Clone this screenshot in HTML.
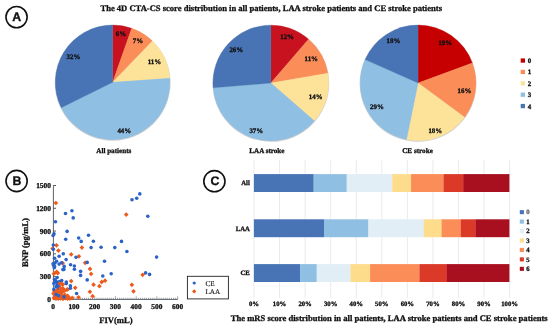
<!DOCTYPE html><html><head><meta charset="utf-8"><title>Figure</title>
<style>html,body{margin:0;padding:0;background:#fff}svg{display:block}text{font-family:"Liberation Serif",serif;font-weight:bold;fill:#111;stroke:#111;stroke-width:.3px;text-rendering:geometricPrecision}.sans{font-family:"Liberation Sans",sans-serif;stroke-width:.35px}.reg{font-weight:normal;stroke-width:.15px}</style></head><body>
<svg width="550" height="328" viewBox="0 0 550 328">
<rect width="550" height="328" fill="#fff"/>
<text x="271.20" y="11.30" font-size="8.56" text-anchor="middle">The 4D CTA-CS score distribution in all patients, LAA stroke patients and CE stroke patients</text>
<circle cx="16.55" cy="17.1" r="10.6" fill="#fff" stroke="#111" stroke-width="1.6"/><text x="16.7" y="21.3" font-size="12.3" text-anchor="middle" class="sans">A</text>
<circle cx="16.6" cy="181.0" r="10.6" fill="#fff" stroke="#111" stroke-width="1.6"/><text x="17.0" y="185.3" font-size="12.3" text-anchor="middle" class="sans">B</text>
<circle cx="214.4" cy="181.2" r="10.6" fill="#fff" stroke="#111" stroke-width="1.6"/><text x="215.0" y="185.4" font-size="12.3" text-anchor="middle" class="sans">C</text>
<circle cx="112.65" cy="82.85" r="57.85" fill="#a8a8a8" opacity="0.55"/><path d="M112.65,82.35L112.65,25.00A57.35,57.35 0 0 1 131.74,28.27Z" fill="#C9121F" stroke="#C9121F" stroke-width="0.3"/><path d="M112.65,82.35L131.74,28.27A57.35,57.35 0 0 1 152.43,41.04Z" fill="#FB8D58" stroke="#FB8D58" stroke-width="0.3"/><path d="M112.65,82.35L152.43,41.04A57.35,57.35 0 0 1 169.85,78.21Z" fill="#FDE39A" stroke="#FDE39A" stroke-width="0.3"/><path d="M112.65,82.35L169.85,78.21A57.35,57.35 0 0 1 61.23,107.74Z" fill="#8FBFE3" stroke="#8FBFE3" stroke-width="0.3"/><path d="M112.65,82.35L61.23,107.74A57.35,57.35 0 0 1 112.65,25.00Z" fill="#4874B5" stroke="#4874B5" stroke-width="0.3"/>
<circle cx="270.85" cy="83.5" r="58.35" fill="#a8a8a8" opacity="0.55"/><path d="M270.85,83.0L270.85,25.15A57.85,57.85 0 0 1 308.56,39.13Z" fill="#C9121F" stroke="#C9121F" stroke-width="0.3"/><path d="M270.85,83.0L308.56,39.13A57.85,57.85 0 0 1 327.87,73.23Z" fill="#FB8D58" stroke="#FB8D58" stroke-width="0.3"/><path d="M270.85,83.0L327.87,73.23A57.85,57.85 0 0 1 314.48,120.98Z" fill="#FDE39A" stroke="#FDE39A" stroke-width="0.3"/><path d="M270.85,83.0L314.48,120.98A57.85,57.85 0 0 1 213.19,87.72Z" fill="#8FBFE3" stroke="#8FBFE3" stroke-width="0.3"/><path d="M270.85,83.0L213.19,87.72A57.85,57.85 0 0 1 270.85,25.15Z" fill="#4874B5" stroke="#4874B5" stroke-width="0.3"/>
<circle cx="418.05" cy="83.4" r="58.35" fill="#a8a8a8" opacity="0.55"/><path d="M418.05,82.9L418.05,25.05A57.85,57.85 0 0 1 472.36,62.96Z" fill="#C60000" stroke="#C60000" stroke-width="0.3"/><path d="M418.05,82.9L472.36,62.96A57.85,57.85 0 0 1 464.64,117.20Z" fill="#FB8D58" stroke="#FB8D58" stroke-width="0.3"/><path d="M418.05,82.9L464.64,117.20A57.85,57.85 0 0 1 406.50,139.58Z" fill="#FDE39A" stroke="#FDE39A" stroke-width="0.3"/><path d="M418.05,82.9L406.50,139.58A57.85,57.85 0 0 1 365.10,59.59Z" fill="#8FBFE3" stroke="#8FBFE3" stroke-width="0.3"/><path d="M418.05,82.9L365.10,59.59A57.85,57.85 0 0 1 418.05,25.05Z" fill="#4874B5" stroke="#4874B5" stroke-width="0.3"/>
<text x="121.00" y="36.30" font-size="6.9" text-anchor="middle">6%</text>
<text x="138.00" y="42.80" font-size="6.9" text-anchor="middle">7%</text>
<text x="154.50" y="63.90" font-size="6.9" text-anchor="middle">11%</text>
<text x="73.50" y="58.60" font-size="6.9" text-anchor="middle">32%</text>
<text x="124.30" y="133.40" font-size="6.9" text-anchor="middle">44%</text>
<text x="287.10" y="38.70" font-size="6.9" text-anchor="middle">12%</text>
<text x="311.30" y="61.00" font-size="6.9" text-anchor="middle">11%</text>
<text x="236.30" y="51.60" font-size="6.9" text-anchor="middle">26%</text>
<text x="315.70" y="98.60" font-size="6.9" text-anchor="middle">14%</text>
<text x="256.30" y="133.40" font-size="6.9" text-anchor="middle">37%</text>
<text x="445.30" y="44.50" font-size="6.9" text-anchor="middle">19%</text>
<text x="393.50" y="43.40" font-size="6.9" text-anchor="middle">18%</text>
<text x="464.50" y="92.90" font-size="6.9" text-anchor="middle">16%</text>
<text x="377.00" y="108.80" font-size="6.9" text-anchor="middle">29%</text>
<text x="435.30" y="133.10" font-size="6.9" text-anchor="middle">18%</text>
<text x="113.80" y="153.30" font-size="7.15" text-anchor="middle">All patients</text>
<text x="266.90" y="153.00" font-size="7.1" text-anchor="middle">LAA stroke</text>
<text x="417.50" y="153.40" font-size="7.15" text-anchor="middle">CE stroke</text>
<rect x="520.7" y="58.40" width="4.3" height="4.3" fill="#C00000"/>
<text x="527.80" y="63.00" font-size="6.9" text-anchor="start">0</text>
<rect x="520.7" y="69.78" width="4.3" height="4.3" fill="#FB8D58"/>
<text x="527.80" y="74.38" font-size="6.9" text-anchor="start">1</text>
<rect x="520.7" y="81.16" width="4.3" height="4.3" fill="#FDE39A"/>
<text x="527.80" y="85.76" font-size="6.9" text-anchor="start">2</text>
<rect x="520.7" y="92.54" width="4.3" height="4.3" fill="#8FBFE3"/>
<text x="527.80" y="97.14" font-size="6.9" text-anchor="start">3</text>
<rect x="520.7" y="103.92" width="4.3" height="4.3" fill="#4874B5"/>
<text x="527.80" y="108.52" font-size="6.9" text-anchor="start">4</text>
<path d="M53.4,185.3V299.4H177.8" fill="none" stroke="#5c646c" stroke-width="1"/>
<path d="M53.4,299.40h2.6" stroke="#444" stroke-width="0.9"/>
<text x="51.00" y="302.00" font-size="7.45" text-anchor="end">0</text>
<path d="M53.4,276.62h2.6" stroke="#444" stroke-width="0.9"/>
<text x="51.00" y="279.22" font-size="7.45" text-anchor="end">300</text>
<path d="M53.4,253.84h2.6" stroke="#444" stroke-width="0.9"/>
<text x="51.00" y="256.44" font-size="7.45" text-anchor="end">600</text>
<path d="M53.4,231.06h2.6" stroke="#444" stroke-width="0.9"/>
<text x="51.00" y="233.66" font-size="7.45" text-anchor="end">900</text>
<path d="M53.4,208.28h2.6" stroke="#444" stroke-width="0.9"/>
<text x="51.00" y="210.88" font-size="7.45" text-anchor="end">1200</text>
<path d="M53.4,185.50h2.6" stroke="#444" stroke-width="0.9"/>
<text x="51.00" y="188.10" font-size="7.45" text-anchor="end">1500</text>
<path d="M53.30,299.4v-3M55.37,299.4v-1.6M57.45,299.4v-1.6M59.52,299.4v-1.6M61.59,299.4v-1.6M63.66,299.4v-1.6M65.74,299.4v-1.6M67.81,299.4v-1.6M69.88,299.4v-1.6M71.96,299.4v-1.6M74.03,299.4v-3M76.10,299.4v-1.6M78.18,299.4v-1.6M80.25,299.4v-1.6M82.32,299.4v-1.6M84.39,299.4v-1.6M86.47,299.4v-1.6M88.54,299.4v-1.6M90.61,299.4v-1.6M92.69,299.4v-1.6M94.76,299.4v-3M96.83,299.4v-1.6M98.91,299.4v-1.6M100.98,299.4v-1.6M103.05,299.4v-1.6M105.12,299.4v-1.6M107.20,299.4v-1.6M109.27,299.4v-1.6M111.34,299.4v-1.6M113.42,299.4v-1.6M115.49,299.4v-3M117.56,299.4v-1.6M119.64,299.4v-1.6M121.71,299.4v-1.6M123.78,299.4v-1.6M125.86,299.4v-1.6M127.93,299.4v-1.6M130.00,299.4v-1.6M132.07,299.4v-1.6M134.15,299.4v-1.6M136.22,299.4v-3M138.29,299.4v-1.6M140.37,299.4v-1.6M142.44,299.4v-1.6M144.51,299.4v-1.6M146.59,299.4v-1.6M148.66,299.4v-1.6M150.73,299.4v-1.6M152.80,299.4v-1.6M154.88,299.4v-1.6M156.95,299.4v-3M159.02,299.4v-1.6M161.10,299.4v-1.6M163.17,299.4v-1.6M165.24,299.4v-1.6M167.31,299.4v-1.6M169.39,299.4v-1.6M171.46,299.4v-1.6M173.53,299.4v-1.6M175.61,299.4v-1.6M177.68,299.4v-3" stroke="#5c646c" stroke-width="0.6"/>
<text x="53.20" y="308.80" font-size="7.4" text-anchor="middle">0</text>
<text x="73.93" y="308.80" font-size="7.4" text-anchor="middle">100</text>
<text x="94.66" y="308.80" font-size="7.4" text-anchor="middle">200</text>
<text x="115.39" y="308.80" font-size="7.4" text-anchor="middle">300</text>
<text x="136.12" y="308.80" font-size="7.4" text-anchor="middle">400</text>
<text x="156.85" y="308.80" font-size="7.4" text-anchor="middle">500</text>
<text x="177.58" y="308.80" font-size="7.4" text-anchor="middle">600</text>
<text x="115.90" y="322.90" font-size="8.6" text-anchor="middle">FIV(mL)</text>
<text transform="translate(27.7,242.5) rotate(-90)" font-size="8.6" text-anchor="middle">BNP (pg/mL)</text>
<path d="M53.5,203.0L55.9,200.7L58.2,203.0L55.9,205.3ZM54.1,245.3L56.5,243.0L58.9,245.3L56.5,247.7ZM79.6,247.6L81.9,245.2L84.2,247.6L81.9,249.9ZM50.2,248.5L52.6,246.2L55.0,248.5L52.6,250.8ZM56.0,250.6L58.4,248.2L60.8,250.6L58.4,252.9ZM68.9,254.4L71.2,252.1L73.5,254.4L71.2,256.8ZM76.6,256.3L78.9,254.0L81.2,256.3L78.9,258.7ZM60.4,263.2L62.7,260.8L65.0,263.2L62.7,265.6ZM82.8,262.8L85.1,260.4L87.4,262.8L85.1,265.2ZM87.7,268.9L90.0,266.5L92.3,268.9L90.0,271.2ZM54.1,271.8L56.5,269.4L58.9,271.8L56.5,274.2ZM51.6,273.7L54.0,271.3L56.4,273.7L54.0,276.1ZM55.4,273.0L57.8,270.6L60.1,273.0L57.8,275.4ZM88.8,273.9L91.1,271.5L93.4,273.9L91.1,276.2ZM68.9,281.1L71.2,278.8L73.5,281.1L71.2,283.5ZM102.8,280.7L105.1,278.3L107.4,280.7L105.1,283.1ZM99.4,282.0L101.7,279.6L104.0,282.0L101.7,284.4ZM57.6,283.4L60.0,281.0L62.4,283.4L60.0,285.8ZM60.2,284.3L62.6,281.9L65.0,284.3L62.6,286.7ZM91.2,284.7L93.6,282.3L95.9,284.7L93.6,287.1ZM97.1,286.2L99.4,283.8L101.8,286.2L99.4,288.6ZM72.9,287.8L75.2,285.4L77.5,287.8L75.2,290.2ZM60.5,288.4L62.9,286.0L65.2,288.4L62.9,290.8ZM64.5,289.7L66.8,287.3L69.1,289.7L66.8,292.1ZM65.4,289.4L67.7,287.0L70.0,289.4L67.7,291.8ZM59.4,289.8L61.7,287.4L64.0,289.8L61.7,292.2ZM87.6,291.8L89.9,289.4L92.2,291.8L89.9,294.2ZM65.4,295.9L67.7,293.5L70.0,295.9L67.7,298.2ZM76.2,297.3L78.6,294.9L80.9,297.3L78.6,299.7ZM69.9,297.9L72.2,295.5L74.5,297.9L72.2,300.2ZM90.2,296.2L92.6,293.8L94.9,296.2L92.6,298.6ZM67.6,298.5L69.9,296.1L72.2,298.5L69.9,300.9ZM123.9,214.6L126.2,212.2L128.6,214.6L126.2,216.9ZM140.3,274.8L142.7,272.4L145.0,274.8L142.7,277.2ZM129.5,284.8L131.8,282.4L134.2,284.8L131.8,287.2ZM131.2,291.3L133.5,288.9L135.8,291.3L133.5,293.7ZM52.1,291.0L54.5,288.6L56.9,291.0L54.5,293.4ZM54.1,292.5L56.5,290.1L58.9,292.5L56.5,294.9ZM56.1,291.5L58.5,289.1L60.9,291.5L58.5,293.9ZM58.1,293.0L60.5,290.6L62.9,293.0L60.5,295.4ZM60.1,292.0L62.5,289.6L64.8,292.0L62.5,294.4ZM52.6,295.0L55.0,292.6L57.4,295.0L55.0,297.4ZM54.6,297.0L57.0,294.6L59.4,297.0L57.0,299.4ZM57.1,296.5L59.5,294.1L61.9,296.5L59.5,298.9ZM59.1,295.5L61.5,293.1L63.9,295.5L61.5,297.9ZM60.6,297.5L63.0,295.1L65.3,297.5L63.0,299.9ZM62.6,295.0L65.0,292.6L67.3,295.0L65.0,297.4ZM51.6,298.0L54.0,295.6L56.4,298.0L54.0,300.4ZM53.6,298.5L56.0,296.1L58.4,298.5L56.0,300.9ZM55.9,298.6L58.2,296.2L60.6,298.6L58.2,301.0ZM58.2,298.4L60.6,296.0L63.0,298.4L60.6,300.8ZM60.6,298.8L63.0,296.4L65.3,298.8L63.0,301.2ZM63.1,298.0L65.5,295.6L67.8,298.0L65.5,300.4ZM65.2,298.6L67.5,296.2L69.8,298.6L67.5,301.0ZM51.2,293.5L53.6,291.1L56.0,293.5L53.6,295.9ZM62.1,290.5L64.5,288.1L66.8,290.5L64.5,292.9Z" fill="#EC5A1E"/>
<g fill="#2B62C6"><circle cx="65.5" cy="213.5" r="1.8"/><circle cx="71.9" cy="210.8" r="1.8"/><circle cx="73.2" cy="217.9" r="1.8"/><circle cx="55.5" cy="221.7" r="1.8"/><circle cx="67.1" cy="231.4" r="1.8"/><circle cx="54.0" cy="233.9" r="1.8"/><circle cx="53.1" cy="235.5" r="1.8"/><circle cx="88.5" cy="235.2" r="1.8"/><circle cx="65.7" cy="239.3" r="1.8"/><circle cx="78.7" cy="238.0" r="1.8"/><circle cx="81.2" cy="241.4" r="1.8"/><circle cx="93.4" cy="241.2" r="1.8"/><circle cx="53.3" cy="245.1" r="1.8"/><circle cx="91.1" cy="247.6" r="1.8"/><circle cx="101.1" cy="247.2" r="1.8"/><circle cx="114.8" cy="247.6" r="1.8"/><circle cx="53.3" cy="249.3" r="1.8"/><circle cx="63.3" cy="253.8" r="1.8"/><circle cx="59.1" cy="256.3" r="1.8"/><circle cx="76.0" cy="257.2" r="1.8"/><circle cx="54.6" cy="258.3" r="1.8"/><circle cx="66.1" cy="259.6" r="1.8"/><circle cx="56.5" cy="261.3" r="1.8"/><circle cx="104.5" cy="261.3" r="1.8"/><circle cx="61.6" cy="262.8" r="1.8"/><circle cx="87.2" cy="262.4" r="1.8"/><circle cx="59.1" cy="264.1" r="1.8"/><circle cx="53.1" cy="263.8" r="1.8"/><circle cx="70.6" cy="264.7" r="1.8"/><circle cx="74.4" cy="266.0" r="1.8"/><circle cx="64.2" cy="266.4" r="1.8"/><circle cx="54.6" cy="266.6" r="1.8"/><circle cx="74.4" cy="269.2" r="1.8"/><circle cx="62.9" cy="269.6" r="1.8"/><circle cx="80.6" cy="271.4" r="1.8"/><circle cx="80.6" cy="275.4" r="1.8"/><circle cx="111.2" cy="273.7" r="1.8"/><circle cx="102.8" cy="276.0" r="1.8"/><circle cx="57.2" cy="277.5" r="1.8"/><circle cx="87.2" cy="279.9" r="1.8"/><circle cx="61.7" cy="280.6" r="1.8"/><circle cx="66.3" cy="282.1" r="1.8"/><circle cx="66.3" cy="283.6" r="1.8"/><circle cx="56.7" cy="282.1" r="1.8"/><circle cx="53.9" cy="283.4" r="1.8"/><circle cx="57.6" cy="285.7" r="1.8"/><circle cx="70.4" cy="285.7" r="1.8"/><circle cx="70.4" cy="288.3" r="1.8"/><circle cx="53.9" cy="289.4" r="1.8"/><circle cx="58.1" cy="288.5" r="1.8"/><circle cx="76.6" cy="293.5" r="1.8"/><circle cx="56.2" cy="294.4" r="1.8"/><circle cx="58.5" cy="295.6" r="1.8"/><circle cx="64.0" cy="296.9" r="1.8"/><circle cx="59.1" cy="286.5" r="1.8"/><circle cx="53.6" cy="265.3" r="1.8"/><circle cx="54.3" cy="267.8" r="1.8"/><circle cx="55.0" cy="263.0" r="1.8"/><circle cx="63.9" cy="269.4" r="1.8"/><circle cx="55.5" cy="280.6" r="1.8"/><circle cx="57.2" cy="284.0" r="1.8"/><circle cx="56.0" cy="286.6" r="1.8"/><circle cx="54.5" cy="279.6" r="1.8"/><circle cx="59.6" cy="281.6" r="1.8"/><circle cx="139.8" cy="193.9" r="1.8"/><circle cx="136.7" cy="198.3" r="1.8"/><circle cx="132.0" cy="199.7" r="1.8"/><circle cx="147.8" cy="216.3" r="1.8"/><circle cx="121.5" cy="241.4" r="1.8"/><circle cx="126.9" cy="251.5" r="1.8"/><circle cx="156.6" cy="257.1" r="1.8"/><circle cx="145.6" cy="272.9" r="1.8"/><circle cx="149.6" cy="274.4" r="1.8"/></g>
<path d="M57.6,283.6L60.0,281.2L62.4,283.6L60.0,286.0ZM60.2,284.5L62.6,282.1L65.0,284.5L62.6,286.9ZM54.6,290.5L57.0,288.1L59.4,290.5L57.0,292.9ZM58.1,288.2L60.5,285.8L62.9,288.2L60.5,290.6Z" fill="#EC5A1E"/>
<rect x="187.4" y="276.3" width="41" height="22.6" fill="#fff" stroke="#222" stroke-width="0.9"/>
<circle cx="194.2" cy="283" r="1.6" fill="#2B62C6"/>
<path d="M192.0,291.4L194.2,289.2L196.4,291.4L194.2,293.6Z" fill="#EC5A1E"/>
<text x="205.40" y="285.50" font-size="7.2" text-anchor="start" class="reg">CE</text>
<text x="205.40" y="293.90" font-size="7.2" text-anchor="start" class="reg">LAA</text>
<path d="M254.00,160.2V298M279.56,160.2V298M305.12,160.2V298M330.68,160.2V298M356.24,160.2V298M381.80,160.2V298M407.36,160.2V298M432.92,160.2V298M458.48,160.2V298M484.04,160.2V298M509.60,160.2V298" stroke="#dcdcdc" stroke-width="0.6"/>
<rect x="253.90" y="174.1" width="59.90" height="17.9" fill="#4874B5"/>
<rect x="313.60" y="174.1" width="33.30" height="17.9" fill="#8FBFE3"/>
<rect x="346.70" y="174.1" width="45.70" height="17.9" fill="#E1EEF5"/>
<rect x="392.20" y="174.1" width="19.05" height="17.9" fill="#FDDC8C"/>
<rect x="411.05" y="174.1" width="32.75" height="17.9" fill="#FB8D58"/>
<rect x="443.60" y="174.1" width="19.80" height="17.9" fill="#DC3A28"/>
<rect x="463.20" y="174.1" width="46.20" height="17.9" fill="#A80F1F"/>
<text x="249.80" y="185.35" font-size="6.7" text-anchor="end">All</text>
<rect x="253.90" y="219.3" width="70.60" height="17.9" fill="#4874B5"/>
<rect x="324.30" y="219.3" width="44.25" height="17.9" fill="#8FBFE3"/>
<rect x="368.35" y="219.3" width="55.65" height="17.9" fill="#E1EEF5"/>
<rect x="423.80" y="219.3" width="18.00" height="17.9" fill="#FDDC8C"/>
<rect x="441.60" y="219.3" width="19.50" height="17.9" fill="#FB8D58"/>
<rect x="460.90" y="219.3" width="14.70" height="17.9" fill="#DC3A28"/>
<rect x="475.40" y="219.3" width="34.00" height="17.9" fill="#A80F1F"/>
<text x="249.80" y="230.55" font-size="6.7" text-anchor="end">LAA</text>
<rect x="253.90" y="264.1" width="46.40" height="17.9" fill="#4874B5"/>
<rect x="300.10" y="264.1" width="16.80" height="17.9" fill="#8FBFE3"/>
<rect x="316.70" y="264.1" width="34.00" height="17.9" fill="#E1EEF5"/>
<rect x="350.50" y="264.1" width="19.80" height="17.9" fill="#FDDC8C"/>
<rect x="370.10" y="264.1" width="49.55" height="17.9" fill="#FB8D58"/>
<rect x="419.45" y="264.1" width="27.45" height="17.9" fill="#DC3A28"/>
<rect x="446.70" y="264.1" width="62.70" height="17.9" fill="#A80F1F"/>
<text x="249.80" y="275.35" font-size="6.7" text-anchor="end">CE</text>
<text x="254.00" y="306.40" font-size="6.7" text-anchor="middle">0%</text>
<text x="279.56" y="306.40" font-size="6.7" text-anchor="middle">10%</text>
<text x="305.12" y="306.40" font-size="6.7" text-anchor="middle">20%</text>
<text x="330.68" y="306.40" font-size="6.7" text-anchor="middle">30%</text>
<text x="356.24" y="306.40" font-size="6.7" text-anchor="middle">40%</text>
<text x="381.80" y="306.40" font-size="6.7" text-anchor="middle">50%</text>
<text x="407.36" y="306.40" font-size="6.7" text-anchor="middle">60%</text>
<text x="432.92" y="306.40" font-size="6.7" text-anchor="middle">70%</text>
<text x="458.48" y="306.40" font-size="6.7" text-anchor="middle">80%</text>
<text x="484.04" y="306.40" font-size="6.7" text-anchor="middle">90%</text>
<text x="509.60" y="306.40" font-size="6.7" text-anchor="middle">100%</text>
<text x="389.20" y="321.40" font-size="8.58" text-anchor="middle">The mRS score distribution in all patients, LAA stroke patients and CE stroke patients</text>
<rect x="519.8" y="210.10" width="4.1" height="4.1" fill="#4874B5"/>
<text x="526.30" y="214.40" font-size="6.7" text-anchor="start" style="fill:#666;stroke:#666">0</text>
<rect x="519.8" y="219.55" width="4.1" height="4.1" fill="#8FBFE3"/>
<text x="526.30" y="223.85" font-size="6.7" text-anchor="start">1</text>
<rect x="519.8" y="229.00" width="4.1" height="4.1" fill="#E1EEF5"/>
<text x="526.30" y="233.30" font-size="6.7" text-anchor="start">2</text>
<rect x="519.8" y="238.45" width="4.1" height="4.1" fill="#FDDC8C"/>
<text x="526.30" y="242.75" font-size="6.7" text-anchor="start">3</text>
<rect x="519.8" y="247.90" width="4.1" height="4.1" fill="#FB8D58"/>
<text x="526.30" y="252.20" font-size="6.7" text-anchor="start">4</text>
<rect x="519.8" y="257.35" width="4.1" height="4.1" fill="#DC3A28"/>
<text x="526.30" y="261.65" font-size="6.7" text-anchor="start">5</text>
<rect x="519.8" y="266.80" width="4.1" height="4.1" fill="#A80F1F"/>
<text x="526.30" y="271.10" font-size="6.7" text-anchor="start">6</text>
</svg></body></html>
